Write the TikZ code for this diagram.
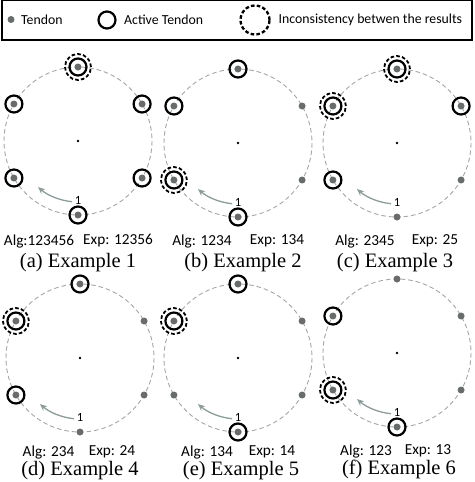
\documentclass[tikz,border=0pt]{standalone}
\usepackage{fontspec}
\setmainfont{Liberation Serif}
\newfontfamily\calfont{Carlito}
\usetikzlibrary{arrows.meta}
\definecolor{tgray}{RGB}{105,108,108}
\definecolor{rgray}{RGB}{165,165,165}
\definecolor{agray}{RGB}{140,155,155}
\tikzset{
  tendon/.style={circle,fill=tgray,inner sep=0pt,minimum size=7pt},
  active/.style={circle,draw=black,line width=2.2pt,minimum size=17pt,inner sep=0pt},
  incons/.style={circle,draw=black,line width=1.8pt,dash pattern=on 3.6pt off 2.2pt,minimum size=26pt,inner sep=0pt},
  ring/.style={draw=rgray,line width=0.9pt,dash pattern=on 4.5pt off 3pt},
  arr/.style={draw=agray,line width=1.3pt,-{Stealth[length=7pt,width=6pt]}},
  seq/.style={font=\calfont\fontsize{15.3}{18}\selectfont,inner sep=0pt},
  numlab/.style={font=\calfont\fontsize{12.5}{14}\selectfont,inner sep=0pt},
  capt/.style={font=\fontsize{20.5}{24}\selectfont,inner sep=0pt},
  legtext/.style={font=\calfont\fontsize{13.8}{16}\selectfont,inner sep=0pt,anchor=west},
}
\newcommand\drawex[5]{%
  \begin{scope}[shift={(#2,#3)}]
    \coordinate (#1c) at (0,0);
    \draw[ring] (#1c) circle[radius=74];
    \fill (#1c) circle[radius=1.3];
    \foreach \k in {1,...,6} {\node[tendon] (#1t\k) at ({90+60*(\k-1)}:74) {};}
    \foreach \k in {#4} {\node[active] (#1a\k) at (#1t\k) {};}
    \foreach \k in {#5} {\node[incons] (#1i\k) at (#1t\k) {};}
    \coordinate (#1as) at (95.5:61);
    \draw[arr] (#1as) arc[start angle=95.5,end angle=131,radius=61];
    \node[numlab] (#1n) at (0,59) {1};
  \end{scope}}
\begin{document}
\begin{tikzpicture}[x=1pt,y=-1pt]
\useasboundingbox (0,0) rectangle (474,482);
% legend
\draw[line width=1.2pt] (2,0.7) rectangle (472,40);
\node[tendon] (lt) at (11,19.5) {};
\node[legtext] (ltt) at (21,20) {Tendon};
\node[active] (la) at (107,20) {};
\node[legtext] (lat) at (124,20) {Active Tendon};
\node[incons,minimum size=29pt,line width=2.3pt] (li) at (255,20) {};
\node[legtext] (lit) at (278.5,20) {Inconsistency betwen the results};
% examples
\drawex{a}{78}{141}{1,2,3,4,5,6}{4}
\drawex{b}{238}{143}{1,2,3,4}{2}
\drawex{c}{397}{143}{2,3,4,5}{3,4}
\drawex{d}{80}{358}{2,3,4}{3}
\drawex{e}{238}{358}{1,3,4}{3}
\drawex{f}{397}{353}{1,2,3}{2}
% labels
\node[seq] (as1) at (39,241) {Alg:123456};
\node[seq] (ae1) at (118,241) {Exp: 12356};
\node[capt] (ac) at (78,263) {(a) Example 1};
\node[seq] (bs1) at (202,241) {Alg: 1234};
\node[seq] (be1) at (277,241) {Exp: 134};
\node[capt] (bc) at (243,263) {(b) Example 2};
\node[seq] (cs1) at (365,241) {Alg: 2345};
\node[seq] (ce1) at (435,241) {Exp: 25};
\node[capt] (cc) at (395,263) {(c) Example 3};
\node[seq] (ds1) at (48.5,452) {Alg: 234};
\node[seq] (de1) at (112,452) {Exp: 24};
\node[capt] (dc) at (80,471) {(d) Example 4};
\node[seq] (es1) at (207,452) {Alg: 134};
\node[seq] (ee1) at (272,452) {Exp: 14};
\node[capt] (ec) at (241,471) {(e) Example 5};
\node[seq] (fs1) at (366,451) {Alg: 123};
\node[seq] (fe1) at (428,451) {Exp: 13};
\node[capt] (fc) at (399,469) {(f) Example 6};
\end{tikzpicture}
\end{document}
